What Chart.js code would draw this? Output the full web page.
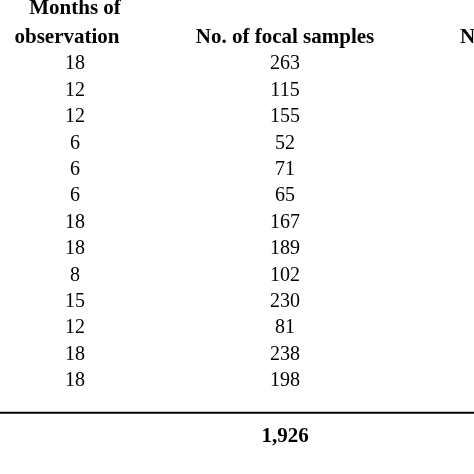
<!DOCTYPE html>
<html><head><meta charset="utf-8">
<script src="https://cdn.jsdelivr.net/npm/chart.js@4/dist/chart.umd.min.js"></script>
<style>html,body{margin:0;background:#fff}#wrap{width:474px;height:474px}</style>
</head><body><div id="wrap"><canvas id="c"></canvas></div>
<script>
const months = [18, 12, 12, 6, 6, 6, 18, 18, 8, 15, 12, 18, 18];
const samples = [263, 115, 155, 52, 71, 65, 167, 189, 102, 230, 81, 238, 198];
const totalLabel = '1,926';
const headers = [['Months of', 'observation'], ['No. of focal samples'], ['N']];

const pts = (arr, col) => arr.map((v, i) => ({x: col, y: i, t: String(v)}));

const tablePlugin = {
  id: 'tableText',
  afterDatasetsDraw(chart) {
    const ctx = chart.ctx, xs = chart.scales.x, ys = chart.scales.y;
    ctx.save();
    ctx.fillStyle = '#000';
    ctx.textAlign = 'center';
    ctx.textBaseline = 'middle';
    ctx.font = '20px "Liberation Serif"';
    chart.data.datasets.forEach(ds => {
      ds.data.forEach(p => ctx.fillText(p.t, xs.getPixelForValue(p.x), ys.getPixelForValue(p.y)));
    });
    ctx.font = 'bold 21px "Liberation Serif"';
    ctx.fillText(headers[0][0], xs.getPixelForValue(0), 9);
    ctx.fillText(headers[0][1], xs.getPixelForValue(0) - 8, 38);
    ctx.fillText(headers[1][0], xs.getPixelForValue(1), 38);
    ctx.fillText(headers[2][0], xs.getPixelForValue(1.87), 38);
    ctx.fillText(totalLabel, xs.getPixelForValue(1), ys.getPixelForValue(14.12));
    ctx.strokeStyle = '#000';
    ctx.lineWidth = 2;
    const ly = ys.getPixelForValue(13.2);
    ctx.beginPath(); ctx.moveTo(0, ly); ctx.lineTo(474, ly); ctx.stroke();
    ctx.restore();
  }
};

new Chart(document.getElementById('c'), {
  type: 'scatter',
  data: {datasets: [
    {data: pts(months, 0), pointRadius: 0},
    {data: pts(samples, 1), pointRadius: 0}
  ]},
  options: {
    responsive: true, maintainAspectRatio: false, animation: false,
    layout: {padding: 0},
    plugins: {legend: {display: false}, tooltip: {enabled: false}},
    scales: {
      x: {type: 'linear', display: false, min: -75 / 210, max: (474 - 75) / 210},
      y: {type: 'linear', display: false, reverse: true, min: -64 / 26.42, max: (474 - 64) / 26.42}
    }
  },
  plugins: [tablePlugin]
});
</script></body></html>
